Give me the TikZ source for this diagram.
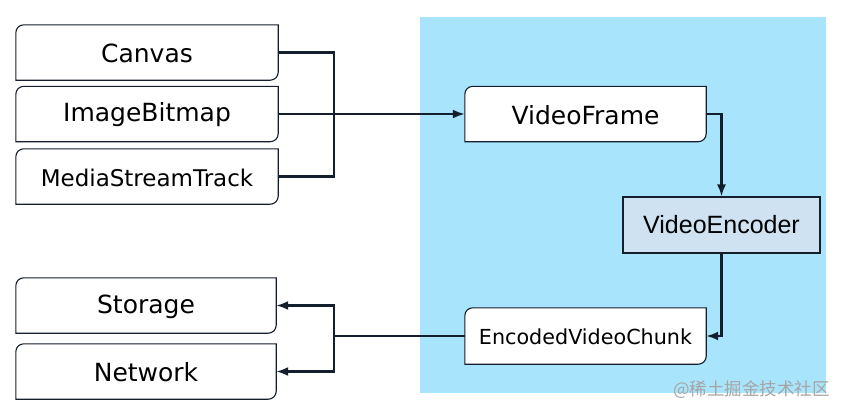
\documentclass[tikz,border=0pt]{standalone}
\usepackage{fontspec}
\setmainfont{DejaVu Sans}
\newfontfamily\arialfont{Liberation Sans}
\newfontfamily\cjkfont{Noto Sans CJK SC}
\usetikzlibrary{calc,arrows.meta}
\definecolor{bgblue}{RGB}{168,229,252}
\definecolor{encfill}{RGB}{206,226,242}
\definecolor{edge}{RGB}{20,30,45}
\definecolor{wmgrey}{RGB}{165,165,165}
\tikzset{
  boxnode/.style={draw=none,inner sep=0pt,minimum height=55pt,text=black},
  wire/.style={draw=edge,line width=2.2pt},
  arrowwire/.style={wire,-{Latex[length=12pt,width=9pt]}},
  outline/.style={draw=edge,line width=1.1pt,fill=white},
}
\newcommand{\rbox}[1]{%
  \draw[outline] (#1.north east) -- ($(#1.south east)+(0,8)$) arc[start angle=0,end angle=-90,radius=8pt]
    -- (#1.south west) -- ($(#1.north west)+(0,-8)$) arc[start angle=180,end angle=90,radius=8pt] -- cycle;}
\begin{document}
\begin{tikzpicture}[x=1pt,y=1pt]
\useasboundingbox (0,0) rectangle (845,-415);
\fill[bgblue] (420,-17) rectangle (826,-393);
% left sources
\node[boxnode,minimum width=262pt] (canvas) at (147,-52.5) {};
\node[boxnode,minimum width=262pt] (imagebitmap) at (147,-114) {};
\node[boxnode,minimum width=262pt] (mst) at (147,-176.5) {};
\node[boxnode,minimum width=260pt] (storage) at (146,-305.5) {};
\node[boxnode,minimum width=260pt] (network) at (146,-371.5) {};
\node[boxnode,minimum width=241pt] (videoframe) at (585.5,-114) {};
\node[boxnode,minimum width=241pt,minimum height=56pt] (chunk) at (585.5,-336) {};
\rbox{canvas}\rbox{imagebitmap}\rbox{mst}\rbox{storage}\rbox{network}\rbox{videoframe}\rbox{chunk}
\node[font=\fontsize{25}{30}\selectfont] at ([yshift=-1pt]canvas) {Canvas};
\node[font=\fontsize{25}{30}\selectfont] at ([yshift=-1pt]imagebitmap) {ImageBitmap};
\node[font=\fontsize{23}{28}\selectfont] at ([yshift=-1pt]mst) {MediaStreamTrack};
\node[font=\fontsize{25}{30}\selectfont] at ([yshift=-1pt]storage) {Storage};
\node[font=\fontsize{25}{30}\selectfont] at ([yshift=-1pt]network) {Network};
\node[font=\fontsize{25}{30}\selectfont] at ([yshift=-1pt]videoframe) {VideoFrame};
\node[font=\fontsize{20.7}{25}\selectfont] at ([yshift=-1pt]chunk) {EncodedVideoChunk};
\node[draw=edge,line width=1.1pt,fill=encfill,minimum width=197pt,minimum height=56pt,inner sep=0pt,
      font=\arialfont\fontsize{25}{30}\selectfont] (encoder) at (721.5,-225) {VideoEncoder};
% junctions
\coordinate (j1) at (334,-114);
\coordinate (j2) at (334,-336);
% connectors
\draw[wire] (canvas.east) -| (j1) |- (mst.east);
\draw[arrowwire] (imagebitmap.east) -- (videoframe.west);
\draw[arrowwire] (videoframe.east) -| (encoder.north);
\draw[arrowwire] (encoder.south) |- (chunk.east);
\draw[wire] (chunk.west) -- (j2);
\draw[arrowwire] (j2) |- (storage.east);
\draw[arrowwire] (j2) |- (network.east);
% watermark
\node[font=\cjkfont\fontsize{17.5}{20}\selectfont,text=wmgrey,anchor=east,inner sep=0pt] (wm) at (830,-390) {@稀土掘金技术社区};
\end{tikzpicture}
\end{document}
